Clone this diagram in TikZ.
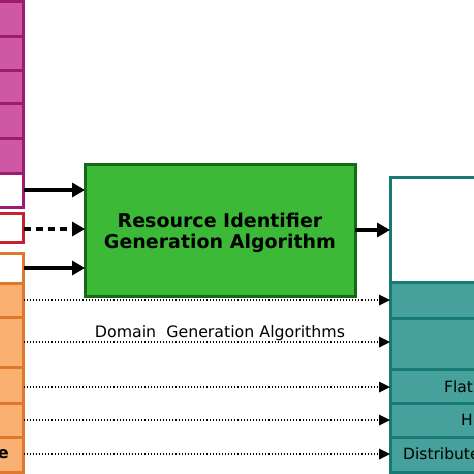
\documentclass[tikz,border=0pt]{standalone}
\usepackage{fontspec}
\setmainfont{DejaVu Sans}
\usetikzlibrary{arrows.meta}
\definecolor{pinkfill}{RGB}{206,88,164}
\definecolor{pinkline}{RGB}{158,28,110}
\definecolor{redline}{RGB}{200,32,44}
\definecolor{orfill}{RGB}{250,176,112}
\definecolor{orline}{RGB}{224,120,44}
\definecolor{grfill}{RGB}{60,185,55}
\definecolor{grline}{RGB}{22,105,22}
\definecolor{tlfill}{RGB}{70,160,155}
\definecolor{tlline}{RGB}{24,122,116}
\tikzset{
  cell/.style={draw, line width=3pt, inner sep=0pt, outer sep=0pt, minimum width=29pt},
  pinkcell/.style={cell, draw=pinkline, fill=pinkfill},
  pinkwhite/.style={cell, draw=pinkline, fill=white},
  redwhite/.style={cell, draw=redline, fill=white},
  orwhite/.style={cell, draw=orline, fill=white},
  orcell/.style={cell, draw=orline, fill=orfill},
  tcell/.style={draw=tlline, fill=tlfill, line width=3pt, inner sep=0pt, outer sep=0pt, minimum width=90pt},
  twhite/.style={tcell, fill=white},
  algbox/.style={draw=grline, fill=grfill, line width=3pt, inner sep=0pt, outer sep=0pt,
    minimum width=270pt, minimum height=132pt, align=center,
    font=\fontsize{19}{21}\selectfont\bfseries},
  solidarrow/.style={line width=3.2pt, -{Triangle[length=13pt,width=14pt]}},
  dasharrow/.style={solidarrow, dash pattern=on 7pt off 5pt},
  dotarrow/.style={line width=1.1pt, dotted, -{Triangle[length=11pt,width=11pt,line width=0pt]}},
  rtext/.style={font=\fontsize{15.5}{17}\selectfont, anchor=base west, inner sep=0pt},
}
\begin{document}
\begin{tikzpicture}[x=1pt,y=-1pt]
\useasboundingbox (0,0) rectangle (474,474);
\begin{scope}
\clip (0,0) rectangle (474,474);
% left column
\node[pinkcell, minimum height=35pt] (p1) at (9,18.5) {};
\node[pinkcell, minimum height=34pt] (p2) at (9,53) {};
\node[pinkcell, minimum height=33pt] (p3) at (9,86.5) {};
\node[pinkcell, minimum height=35pt] (p4) at (9,120.5) {};
\node[pinkcell, minimum height=35pt] (p5) at (9,155.5) {};
\node[pinkwhite, minimum height=34pt] (w1) at (9,190) {};
\node[redwhite, minimum height=29pt] (w2) at (9,227.5) {};
\node[orwhite, minimum height=30pt] (w3) at (9,268) {};
\node[orcell, minimum height=34pt] (o1) at (9,300) {};
\node[orcell, minimum height=50pt] (o2) at (9,342) {};
\node[orcell, minimum height=36pt] (o3) at (9,385) {};
\node[orcell, minimum height=34pt] (o4) at (9,420) {};
\node[orcell, minimum height=35pt] (o5) at (9,454.5) {};
\node[font=\fontsize{16}{18}\selectfont\bfseries, anchor=base east, inner sep=0pt] (le) at (9,458) {e};
% right column
\node[twhite, minimum height=105pt] (t0) at (435,229.5) {};
\node[tcell, minimum height=36pt] (t1) at (435,300) {};
\node[tcell, minimum height=51pt] (t2) at (435,343.5) {};
\node[tcell, minimum height=34pt] (t3) at (435,386) {};
\node[tcell, minimum height=34pt] (t4) at (435,420) {};
\node[tcell, minimum height=35pt] (t5) at (435,454.5) {};
\node[rtext] (rt3) at (444,392) {Flat};
\node[rtext] (rt4) at (461,425) {H};
\node[rtext] (rt5) at (403,459) {Distributed};
\end{scope}
% algorithm box
\node[algbox] (alg) at (220,230) {\rule{0pt}{20.5pt}Resource Identifier\\Generation Algorithm};
% arrows
\draw[solidarrow] (w1.east) -- (w1.east -| alg.west);
\draw[dasharrow] (w2.east |- 0,229) -- (alg.west |- 0,229);
\draw[solidarrow] (w3.east) -- (w3.east -| alg.west);
\draw[solidarrow] (alg.east) -- (alg.east -| t0.west);
\draw[dotarrow] (o1.east) -- (o1.east -| t1.west);
\draw[dotarrow] (o2.east) -- (o2.east -| t2.west);
\draw[dotarrow] (o3.east |- 0,387) -- (t3.west |- 0,387);
\draw[dotarrow] (o4.east) -- (o4.east -| t4.west);
\draw[dotarrow] (o5.east |- 0,454) -- (t5.west |- 0,454);
\node[font=\fontsize{15.8}{18}\selectfont, anchor=base, inner sep=0pt] (dga) at (220,337) {Domain\ \ Generation Algorithms};
\end{tikzpicture}
\end{document}
